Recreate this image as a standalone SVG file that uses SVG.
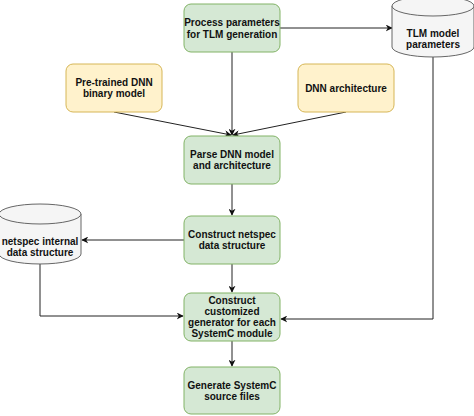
<svg xmlns="http://www.w3.org/2000/svg" width="474" height="416" viewBox="0 0 474 416">
<style>
.g{fill:#d5e8d4;stroke:#82b366;stroke-width:1}
.y{fill:#fff2cc;stroke:#d6b656;stroke-width:1}
.c{fill:#f5f5f5;stroke:#666666;stroke-width:1}
text{font-family:"Liberation Sans",Arial,sans-serif;font-weight:bold;font-size:10px;fill:#111;text-anchor:middle}
.e{fill:none;stroke:#222;stroke-width:1}
</style>
<defs>
<marker id="a" viewBox="0 0 10 10" refX="9" refY="5" markerWidth="7" markerHeight="7" orient="auto" markerUnits="userSpaceOnUse">
<path d="M0,0 L10,5 L0,10 L3,5 Z" fill="#111"/>
</marker>
</defs>
<rect width="474" height="416" fill="#ffffff"/>
<g id="connectors">
<path class="e" d="M280,28 L392,28" marker-end="url(#a)"/>
<path class="e" d="M232,52 L232,135" marker-end="url(#a)"/>
<path class="e" d="M114,112 L231,135" marker-end="url(#a)"/>
<path class="e" d="M346,112 L233,135" marker-end="url(#a)"/>
<path class="e" d="M232,184 L232,215" marker-end="url(#a)"/>
<path class="e" d="M184,240 L82,240" marker-end="url(#a)"/>
<path class="e" d="M232,264 L232,292" marker-end="url(#a)"/>
<path class="e" d="M40,264 L40,316 L183,316" marker-end="url(#a)"/>
<path class="e" d="M433,57 L433,319 L281,319" marker-end="url(#a)"/>
<path class="e" d="M232,341 L232,366" marker-end="url(#a)"/>
</g>
<g id="process-params">
<rect class="g" x="184" y="4" width="96" height="48" rx="7"/>
<text x="232" y="26">Process parameters</text>
<text x="232" y="38">for TLM generation</text>
</g>
<g id="tlm-params">
<path class="c" d="M392,6 A41,10 0 0 1 474,6 L474,47 A41,10 0 0 1 392,47 Z"/>
<path class="c" d="M392,6 A41,10 0 0 0 474,6"/>
<text x="433" y="37">TLM model</text>
<text x="433" y="48">parameters</text>
</g>
<g id="pretrained">
<rect class="y" x="66" y="64" width="96" height="48" rx="7"/>
<text x="114" y="86">Pre-trained DNN</text>
<text x="114" y="97">binary model</text>
</g>
<g id="dnn-arch">
<rect class="y" x="298" y="64" width="96" height="48" rx="7"/>
<text x="346" y="92">DNN architecture</text>
</g>
<g id="parse">
<rect class="g" x="184" y="136" width="96" height="48" rx="7"/>
<text x="232" y="158">Parse DNN model</text>
<text x="232" y="169">and architecture</text>
</g>
<g id="netspec">
<rect class="g" x="184" y="216" width="96" height="48" rx="7"/>
<text x="232" y="238">Construct netspec</text>
<text x="232" y="249">data structure</text>
</g>
<g id="netspec-internal">
<path class="c" d="M-1,214 A41,10 0 0 1 81,214 L81,254 A41,10 0 0 1 -1,254 Z"/>
<path class="c" d="M-1,214 A41,10 0 0 0 81,214"/>
<text x="40" y="245">netspec internal</text>
<text x="40" y="256">data structure</text>
</g>
<g id="generator">
<rect class="g" x="184" y="293" width="96" height="48" rx="7"/>
<text x="232" y="304">Construct</text>
<text x="232" y="315">customized</text>
<text x="232" y="326">generator for each</text>
<text x="232" y="337">SystemC module</text>
</g>
<g id="generate">
<rect class="g" x="184" y="367" width="96" height="47" rx="7"/>
<text x="232" y="389">Generate SystemC</text>
<text x="232" y="400">source files</text>
</g>
</svg>
